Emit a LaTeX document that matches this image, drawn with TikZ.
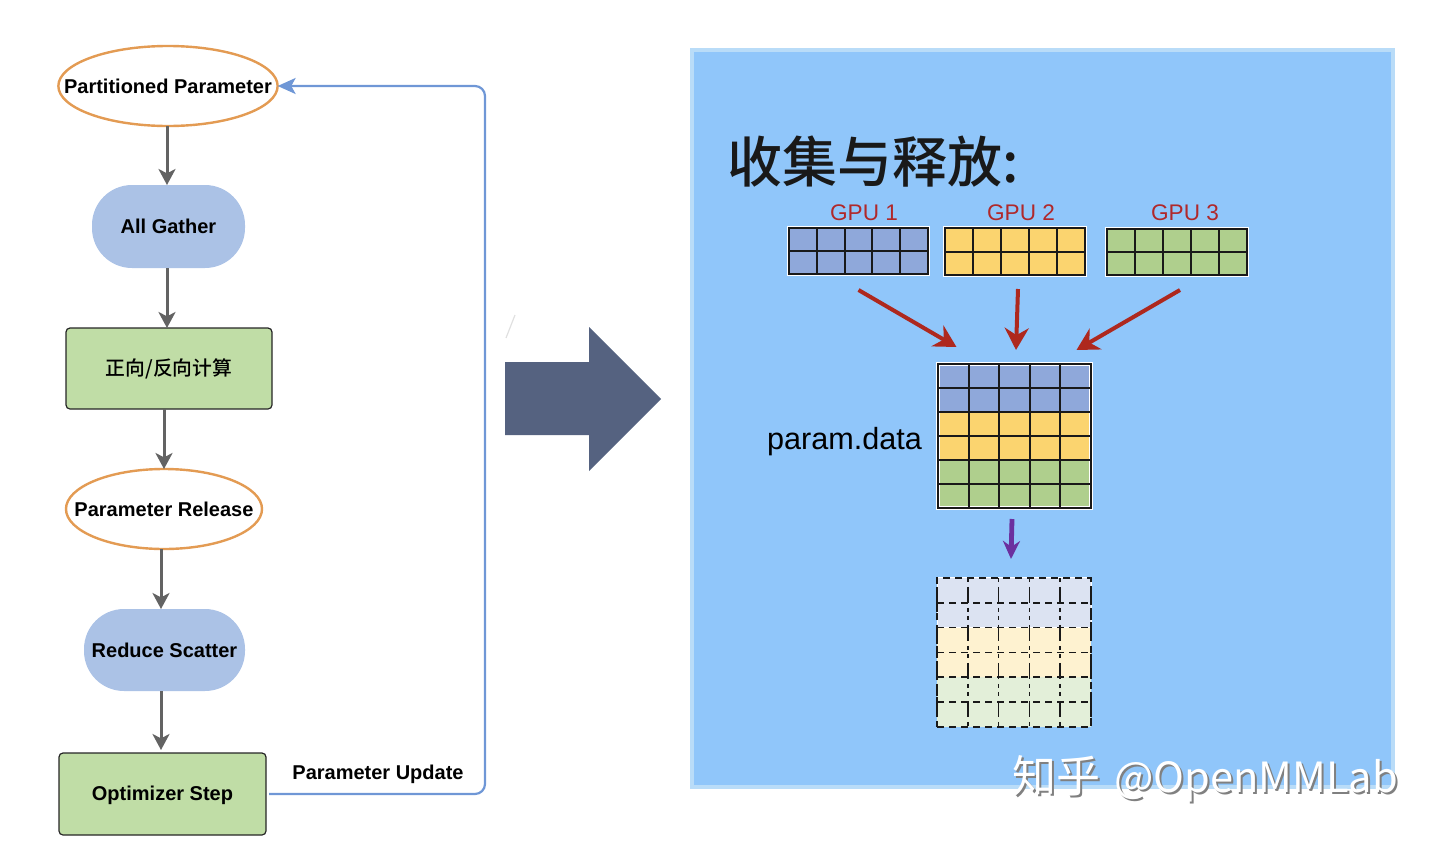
\documentclass[tikz,border=0pt]{standalone}
\usepackage{fontspec}
\setmainfont{Liberation Sans}
\newfontfamily\cjkfont{Noto Sans CJK SC Medium}
\newfontfamily\markfamily{Noto Sans CJK SC}
\usetikzlibrary{positioning,fit,calc,shapes.geometric,arrows.meta}

\definecolor{ringline}{HTML}{E39B53}
\definecolor{pillfill}{HTML}{ABC2E6}
\definecolor{stagefill}{HTML}{C0DDA6}
\definecolor{flowgray}{HTML}{636363}
\definecolor{updateblue}{HTML}{6F97D6}
\definecolor{slate}{HTML}{556280}
\definecolor{panelfill}{HTML}{90C6FA}
\definecolor{panelline}{HTML}{B9DCF8}
\definecolor{gpured}{HTML}{B0282A}
\definecolor{arrowred}{HTML}{AE281E}
\definecolor{arrowpurple}{HTML}{6B309F}
\definecolor{cellblue}{HTML}{8FA8DA}
\definecolor{cellyellow}{HTML}{FBD46F}
\definecolor{cellgreen}{HTML}{AFCF8D}
\definecolor{paleblue}{HTML}{DCE3F2}
\definecolor{paleyellow}{HTML}{FEF2D0}
\definecolor{palegreen}{HTML}{E3EFD9}

\tikzset{
  every node/.style={outer sep=0pt, inner sep=0pt},
  ringnode/.style={ellipse, draw=ringline, line width=1.2pt, fill=white, font=\bfseries\fontsize{10}{12}\selectfont},
  pillnode/.style={rectangle, rounded corners=20pt, fill=pillfill, font=\bfseries\fontsize{10}{12}\selectfont},
  stagenode/.style={rectangle, rounded corners=2pt, draw=black!85, line width=0.6pt, fill=stagefill, font=\bfseries\fontsize{10}{12}\selectfont},
  flowarr/.style={-{Stealth[length=8pt,width=8.5pt,inset=2.2pt]}, draw=flowgray, line width=1.5pt},
  updatearr/.style={-{Stealth[length=9pt,width=8pt,inset=2.2pt]}, draw=updateblue, line width=1.1pt, rounded corners=5pt},
  gpulabel/.style={text=gpured, font=\fontsize{11.3}{13}\selectfont},
  gridbox/.style={draw=black!90, line width=1pt, preaction={draw=white, line width=1.8pt}},
  gridline/.style={draw=black!90, line width=1pt},
  bandcell/.style={minimum width=76.5pt, minimum height=24pt},
  paleband/.style={minimum width=77pt, minimum height=24.83pt},
  dashh/.style={draw=black!90, line width=0.8pt, dash pattern=on 3.5pt off 2.5pt},
  dashv/.style={draw=black!90, line width=0.8pt, dash pattern=on 2pt off 2.5pt on 8pt off 2.5pt on 2pt off 2pt},
  redarr/.style={-{Stealth[length=11pt,width=12pt]}, draw=arrowred, line width=2pt},
  purplearr/.style={-{Stealth[length=9pt,width=8.5pt]}, draw=arrowpurple, line width=2.4pt},
  markfont/.style={font=\markfamily\fontsize{22}{26}\selectfont}
}

% vertical and horizontal lines of a table-like block
\newcommand{\gridlines}[4]{
  \foreach \i in {1,...,#2}
    \draw[#4] ($(#1.north west)!\i/#2!(#1.north east)$) -- ($(#1.south west)!\i/#2!(#1.south east)$);
  \foreach \j in {1,...,#3}
    \draw[#4] ($(#1.north west)!\j/#3!(#1.south west)$) -- ($(#1.north east)!\j/#3!(#1.south east)$);
}
\newcommand{\marktext}{知乎\hspace{2.5pt}{\fontsize{20.8}{26}\selectfont\ @OpenMMLab}}

\begin{document}
\begin{tikzpicture}[x=0.5pt,y=-0.5pt]
\useasboundingbox (0,0) rectangle (1440,846);

% flow on the left
\node[ringnode, inner xsep=-13.2pt, minimum width=109pt, minimum height=40pt] (partition) at (168,86) {Partitioned Parameter};
\node[pillnode, minimum width=76.5pt, minimum height=41.5pt, below=29.5pt of partition, xshift=0.25pt] (gather) {All Gather};
\node[stagenode, minimum width=103pt, minimum height=40.5pt, below=30pt of gather, xshift=0.25pt] (compute) {\mdseries\cjkfont\fontsize{9.9}{12}\selectfont 正向/反向计算};
\node[ringnode, inner xsep=-10.1pt, minimum width=98pt, minimum height=40pt, below=30pt of compute, xshift=-2.5pt] (release) {Parameter Release};
\node[pillnode, minimum width=80.5pt, minimum height=41pt, below=30pt of release, xshift=0.25pt] (scatter) {Reduce Scatter};
\node[stagenode, text depth=1pt, minimum width=103.5pt, minimum height=41pt, below=31pt of scatter, xshift=-1pt] (optimizer) {Optimizer Step};

\draw[flowarr] ([xshift=-0.5pt]partition.south) -- ([xshift=-0.5pt]partition.south |- gather.north);
\draw[flowarr] ([xshift=-0.75pt]gather.south) -- ([xshift=-0.75pt]gather.south |- compute.north);
\draw[flowarr] (compute.south -| release.north) -- (release.north);
\draw[flowarr] ([xshift=-1.5pt]release.south) -- ([xshift=-1.5pt]release.south |- scatter.north);
\draw[flowarr] ([xshift=-1.75pt]scatter.south) -- ([xshift=-1.75pt,yshift=1.5pt]scatter.south |- optimizer.north);

\coordinate (turn) at (485,440);
\draw[updatearr] ([xshift=1.5pt]optimizer.east) -- (optimizer.east -| turn) -- (partition.east -| turn) -- (partition.east);
\node[font=\bfseries\fontsize{10}{12}\selectfont] (updatelabel) at (378,774.5) {Parameter Update};

% big arrow between both halves
\fill[slate] (505,362) -- (589,362) -- (589,327) -- (661,399) -- (589,471) -- (589,435) -- (505,435) -- cycle;
\draw[black!12, line width=0.6pt] (506,338) -- (515,315);

% right panel
\node[draw=panelline, line width=2pt, fill=panelfill, minimum width=350.5pt, minimum height=368.5pt] (panel) at (1042.5,418.5) {};
\node[font=\cjkfont\fontsize{27.5}{32}\selectfont, text=black!90, anchor=west] (title) at (727,162) {收集与释放:};

\node[gridbox, fill=cellblue, minimum width=69.5pt, minimum height=23pt] (gpua) at (858.5,251) {};
\node[gridbox, fill=cellyellow, minimum width=70pt, minimum height=23.5pt] (gpub) at (1015,251.5) {};
\node[gridbox, fill=cellgreen, minimum width=70pt, minimum height=23pt] (gpuc) at (1177,252) {};
\gridlines{gpua}{5}{2}{gridline}
\gridlines{gpub}{5}{2}{gridline}
\gridlines{gpuc}{5}{2}{gridline}
\node[gpulabel] (labela) at (864,213) {GPU 1};
\node[gpulabel] (labelb) at (1021,213) {GPU 2};
\node[gpulabel] (labelc) at (1185,213) {GPU 3};

\node[bandcell, fill=cellblue] (datablue) at (1014.5,388) {};
\node[bandcell, fill=cellyellow, below=0pt of datablue] (datayellow) {};
\node[bandcell, fill=cellgreen, below=0pt of datayellow] (datagreen) {};
\node[gridbox, fit=(datablue)(datagreen)] (data) {};
\gridlines{data}{5}{6}{gridline}
\node[left=8pt of data, yshift=-3pt, font=\fontsize{15.3}{18}\selectfont] (datalabel) {param.data};

\draw[redarr] ([yshift=-8pt]gpua.south) -- ([xshift=-29pt,yshift=8.5pt]data.north);
\draw[redarr] ([xshift=1.5pt,yshift=-7pt]gpub.south) -- ([xshift=0.75pt,yshift=7pt]data.north);
\draw[redarr] ([xshift=1.5pt,yshift=-7.5pt]gpuc.south) -- ([xshift=31pt,yshift=7pt]data.north);

\node[paleband, fill=paleblue, draw=white, line width=0.5pt] (freeblue) at (1014,602.8) {};
\node[paleband, fill=paleyellow, below=0pt of freeblue] (freeyellow) {};
\node[paleband, fill=palegreen, below=0pt of freeyellow] (freegreen) {};
\node[fit=(freeblue)(freegreen), dashh] (free) {};
\foreach \i in {0,...,5}
  \draw[dashv] ($(free.north west)!\i/5!(free.north east)$) -- ($(free.south west)!\i/5!(free.south east)$);
\foreach \j in {1,...,5}
  \draw[dashh] ($(free.north west)!\j/6!(free.south west)$) -- ($(free.north east)!\j/6!(free.south east)$);

\draw[purplearr] ([xshift=-1.25pt,yshift=-5.5pt]data.south) -- ([xshift=-1.5pt,yshift=9.5pt]free.north);

% watermark
\node[markfont, text=black!50, anchor=west] (markshadow) at (1014,781) {\marktext};
\node[markfont, text=white, anchor=west] (mark) at (1012,779) {\marktext};
\end{tikzpicture}
\end{document}
